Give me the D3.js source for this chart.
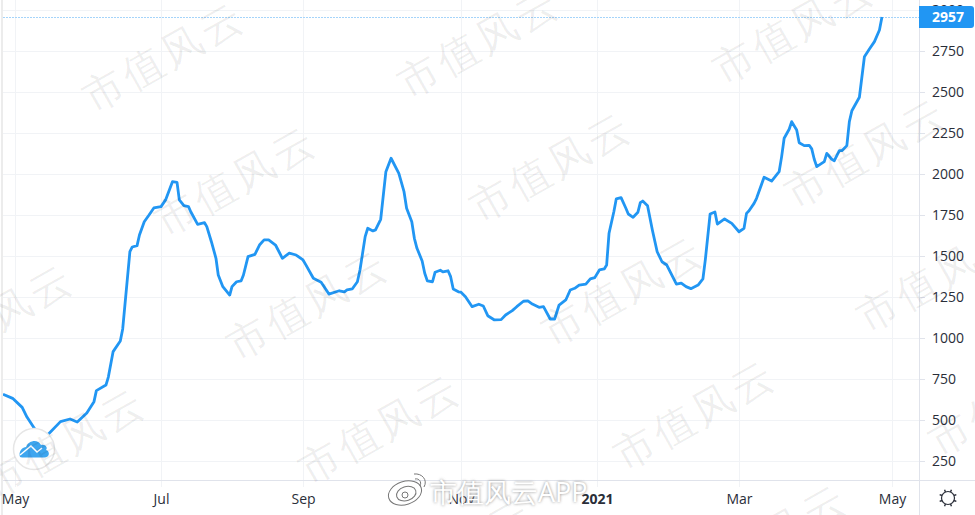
<!DOCTYPE html>
<html>
<head>
<meta charset="utf-8">
<script src="https://cdn.jsdelivr.net/npm/d3@7"></script>
<style>
html, body { margin: 0; padding: 0; background: #fff; overflow: hidden; }
svg { display: block; }
text { font-family: "Open Sans", "Noto Sans", sans-serif; }
</style>
</head>
<body>
<div id="chart"></div>
<script>
const dates = [
"2020-04-26","2020-04-30","2020-05-04","2020-05-06","2020-05-09","2020-05-12","2020-05-15","2020-05-20","2020-05-24","2020-05-27","2020-05-31",
"2020-06-03","2020-06-04","2020-06-08","2020-06-09","2020-06-11","2020-06-14","2020-06-15","2020-06-18","2020-06-19","2020-06-21","2020-06-22","2020-06-24","2020-06-26","2020-06-28",
"2020-07-01","2020-07-03","2020-07-06","2020-07-08","2020-07-09","2020-07-11","2020-07-13","2020-07-14","2020-07-17","2020-07-20","2020-07-21","2020-07-23","2020-07-25","2020-07-26","2020-07-28","2020-07-31",
"2020-08-01","2020-08-03","2020-08-05","2020-08-06","2020-08-08","2020-08-11","2020-08-13","2020-08-15","2020-08-17","2020-08-20","2020-08-23","2020-08-26","2020-08-29",
"2020-09-01","2020-09-02","2020-09-05","2020-09-08","2020-09-10","2020-09-11","2020-09-15","2020-09-17","2020-09-18","2020-09-20","2020-09-22","2020-09-23","2020-09-25","2020-09-26","2020-09-28","2020-09-29",
"2020-10-01","2020-10-03","2020-10-05","2020-10-08","2020-10-10","2020-10-11","2020-10-13","2020-10-14","2020-10-15","2020-10-17","2020-10-18","2020-10-19","2020-10-21","2020-10-22","2020-10-24","2020-10-25","2020-10-27","2020-10-28","2020-10-29","2020-10-31",
"2020-11-01","2020-11-03","2020-11-06","2020-11-09","2020-11-11","2020-11-13","2020-11-16","2020-11-19","2020-11-21","2020-11-24","2020-11-26","2020-11-29",
"2020-12-01","2020-12-03","2020-12-06","2020-12-08","2020-12-11","2020-12-13","2020-12-15","2020-12-18","2020-12-20","2020-12-22","2020-12-24","2020-12-27","2020-12-29","2020-12-31",
"2021-01-02","2021-01-04","2021-01-05","2021-01-06","2021-01-08","2021-01-09","2021-01-11","2021-01-13","2021-01-14","2021-01-16","2021-01-18","2021-01-19","2021-01-20","2021-01-22","2021-01-24","2021-01-26","2021-01-28","2021-01-30",
"2021-02-03","2021-02-05","2021-02-07","2021-02-09","2021-02-12","2021-02-14","2021-02-15","2021-02-17","2021-02-19","2021-02-20","2021-02-23","2021-02-26",
"2021-03-01","2021-03-03","2021-03-04","2021-03-05","2021-03-07","2021-03-08","2021-03-11","2021-03-14","2021-03-17","2021-03-18","2021-03-19","2021-03-21","2021-03-22","2021-03-24","2021-03-25","2021-03-27","2021-03-29","2021-03-30","2021-03-31",
"2021-04-01","2021-04-04","2021-04-05","2021-04-07","2021-04-08","2021-04-10","2021-04-11","2021-04-13","2021-04-14","2021-04-15","2021-04-18","2021-04-20","2021-04-22","2021-04-24","2021-04-26","2021-04-27"
];
const values = [
657,632,577,518,451,378,415,490,506,488,543,
612,679,713,762,917,982,1055,1526,1555,1563,1628,1709,1750,1793,
1801,1842,1953,1949,1842,1807,1801,1770,1693,1703,1679,1587,1486,1384,1313,1262,
1313,1343,1349,1384,1496,1510,1567,1598,1598,1567,1486,1517,1506,
1476,1449,1364,1340,1293,1268,1288,1281,1293,1299,1343,1415,1618,1669,1653,1659,
1724,2014,2096,2004,1892,1791,1709,1608,1547,1470,1395,1348,1343,1401,1413,1403,1410,1374,1299,1282,
1279,1252,1191,1206,1195,1136,1110,1112,1140,1167,1191,1224,
1226,1207,1187,1191,1116,1116,1201,1232,1293,1303,1323,1328,1360,1368,
1415,1421,1445,1639,1770,1848,1856,1791,1756,1736,1767,1825,1835,1807,1659,1526,1465,1445,
1328,1334,1313,1301,1323,1360,1476,1756,1768,1695,1726,1699,
1648,1669,1760,1776,1821,1852,1980,1957,2014,2106,2218,2273,2319,2268,2191,2173,2175,2153,2090,
2045,2075,2126,2090,2081,2142,2142,2173,2319,2386,2468,2715,2762,2807,2878,2957
];
const yTicks = [250,500,750,1000,1250,1500,1750,2000,2250,2500,2750,3000];
const xTickDates = ["2020-05-01","2020-07-01","2020-09-01","2020-11-01","2021-01-01","2021-03-01","2021-05-01"];
const xTickLabels = ["May","Jul","Sep","Nov","2021","Mar","May"];
const lastValue = 2957;
const watermarkText = "市值风云";
const footerText = "市值风云APP";

let width = 975, height = 515;
let plotRight = 919, plotBottom = 480, plotLeft = 3;
let parseDate = d3.timeParse("%Y-%m-%d");

// the time axis skips non trading days, so month ticks are not evenly spaced
let x = d3.scaleTime()
    .domain(xTickDates.map(parseDate))
    .range([15, 161, 303, 461, 597, 739, 892]);
let y = d3.scaleLinear()
    .domain([250, 2750])
    .range([461, 51]);

let svg = d3.select("#chart").append("svg")
    .attr("width", width)
    .attr("height", height);

let defs = svg.append("defs");
defs.append("clipPath").attr("id", "plot")
    .append("rect").attr("x", plotLeft).attr("y", 0)
    .attr("width", plotRight - plotLeft).attr("height", plotBottom);
defs.append("filter").attr("id", "soft")
    .attr("x", "-10%").attr("y", "-30%").attr("width", "120%").attr("height", "160%")
    .append("feGaussianBlur").attr("stdDeviation", 1.6);

// grid
svg.append("g").selectAll("line").data(yTicks).join("line")
    .attr("x1", plotLeft).attr("x2", plotRight)
    .attr("y1", d => Math.round(y(d)) + 0.5).attr("y2", d => Math.round(y(d)) + 0.5)
    .attr("stroke", "#f1f3f6");
svg.append("g").selectAll("line").data(xTickDates).join("line")
    .attr("x1", d => x(parseDate(d)) + 0.5).attr("x2", d => x(parseDate(d)) + 0.5)
    .attr("y1", 0).attr("y2", plotBottom + 7)
    .attr("stroke", "#f1f3f6");

// last value dotted line
svg.append("line")
    .attr("x1", plotLeft).attr("x2", plotRight)
    .attr("y1", Math.floor(y(lastValue)) + 0.5).attr("y2", Math.floor(y(lastValue)) + 0.5)
    .attr("stroke", "#a5d4fa").attr("stroke-dasharray", "2 1");

// series
let points = dates.map((d, i) => ({date: parseDate(d), value: values[i]}));
svg.append("path")
    .datum(points)
    .attr("clip-path", "url(#plot)")
    .attr("fill", "none")
    .attr("stroke", "#2196f3")
    .attr("stroke-width", 2.8)
    .attr("stroke-linejoin", "round")
    .attr("d", d3.line().x(d => x(d.date)).y(d => y(d.value)));

// axis frame
svg.append("line").attr("x1", 2).attr("x2", 2).attr("y1", 0).attr("y2", height).attr("stroke", "#e6e6e6").attr("stroke-width", 1.5);
svg.append("line").attr("x1", plotLeft).attr("x2", width).attr("y1", plotBottom + 0.5).attr("y2", plotBottom + 0.5).attr("stroke", "#e0e3eb");
svg.append("line").attr("x1", plotRight + 0.5).attr("x2", plotRight + 0.5).attr("y1", 0).attr("y2", height).attr("stroke", "#e0e3eb");

let yAxis = svg.append("g")
    .attr("transform", "translate(" + plotRight + ",0)")
    .call(d3.axisRight(y).tickValues(yTicks).tickSize(6).tickPadding(7).tickFormat(d3.format("d")));
yAxis.select(".domain").remove();
yAxis.selectAll("line").attr("stroke", "#e0e3eb");
yAxis.selectAll("text").attr("font-size", 14).attr("fill", "#2a2e39")
    .attr("font-family", "'Open Sans', sans-serif");

let xAxis = svg.append("g")
    .attr("transform", "translate(0," + plotBottom + ")")
    .call(d3.axisBottom(x).tickValues(xTickDates.map(parseDate)).tickSize(0).tickPadding(14)
        .tickFormat((d, i) => xTickLabels[i]));
xAxis.select(".domain").remove();
xAxis.selectAll("text").attr("font-size", 14).attr("fill", "#2a2e39")
    .attr("font-family", "'Open Sans', sans-serif")
    .attr("font-weight", (d, i) => xTickLabels[i] == "2021" ? 700 : 400);

// last value label
svg.append("path")
    .attr("d", "M919,6H971a3,3 0 0 1 3,3V25a3,3 0 0 1 -3,3H919Z")
    .attr("fill", "#2196f3");
svg.append("text")
    .attr("x", 932).attr("y", y(lastValue) + 5)
    .attr("font-size", 14).attr("font-weight", 700).attr("fill", "#fff")
    .text(lastValue);

// settings button
let gear = svg.append("g").attr("transform", "translate(948,498)")
    .attr("fill", "none").attr("stroke", "#2a2e39");
gear.append("circle").attr("r", 6.5).attr("stroke-width", 1.2);
d3.range(8).forEach(i => {
    gear.append("line").attr("y1", -6.5).attr("y2", -9)
        .attr("stroke-width", 1.4)
        .attr("transform", "rotate(" + (i * 45 + 22.5) + ")");
});

// logo
let logo = svg.append("g").attr("transform", "translate(34,449)");
logo.append("circle").attr("r", 20.5).attr("fill", "#fff").attr("stroke", "#e6e6e6").attr("stroke-width", 1.5);
logo.append("path")
    .attr("d", "M-14,8C-16,2 -11,-2 -8,-2C-5,-9 4,-10 7,-4C12,-5 14,-1 12,1C16,2 16,8 11,8.5H-12Z")
    .attr("fill", "#3ea6ef");
logo.append("path")
    .attr("d", "M-14,6L-3,-3L3,3L8,-1")
    .attr("fill", "none").attr("stroke", "#fff").attr("stroke-width", 1.5);

// watermarks
for (let col = -1; col < 3; col++) {
    for (let row = 0; row < 5; row++) {
        svg.append("text")
            .attr("transform", "translate(" + (93 + col * 315 + row * 72) + "," + (113 - col * 14 + row * 124) + ") rotate(-29.5)")
            .attr("font-family", "'Noto Sans CJK SC'")
            .attr("font-weight", 300)
            .attr("font-size", 41)
            .attr("letter-spacing", 4)
            .attr("fill", "#000")
            .attr("fill-opacity", 0.065)
            .text(watermarkText);
    }
}

// footer stamp
svg.append("text")
    .attr("x", 430).attr("y", 502)
    .attr("font-family", "'Noto Sans CJK SC'").attr("font-size", 27)
    .attr("fill", "#888").attr("filter", "url(#soft)")
    .text(footerText);
svg.append("text")
    .attr("x", 430).attr("y", 502)
    .attr("font-family", "'Noto Sans CJK SC'").attr("font-size", 27)
    .attr("fill", "#fff")
    .text(footerText);

let weibo = svg.append("g").attr("transform", "translate(405,493)").attr("fill", "#fff").attr("stroke", "#777").attr("stroke-width", 1);
weibo.append("ellipse").attr("rx", 17).attr("ry", 11.5).attr("transform", "rotate(-18)");
weibo.append("ellipse").attr("cx", 1).attr("cy", 1).attr("rx", 10).attr("ry", 7).attr("transform", "rotate(-18)");
weibo.append("circle").attr("cx", 0).attr("cy", 2).attr("r", 3);
weibo.append("path").attr("fill", "none").attr("d", "M9,-19C17,-20 23,-13 19,-6");
weibo.append("path").attr("fill", "none").attr("d", "M10,-14C14,-15 17,-11 15,-7");
</script>
</body>
</html>
